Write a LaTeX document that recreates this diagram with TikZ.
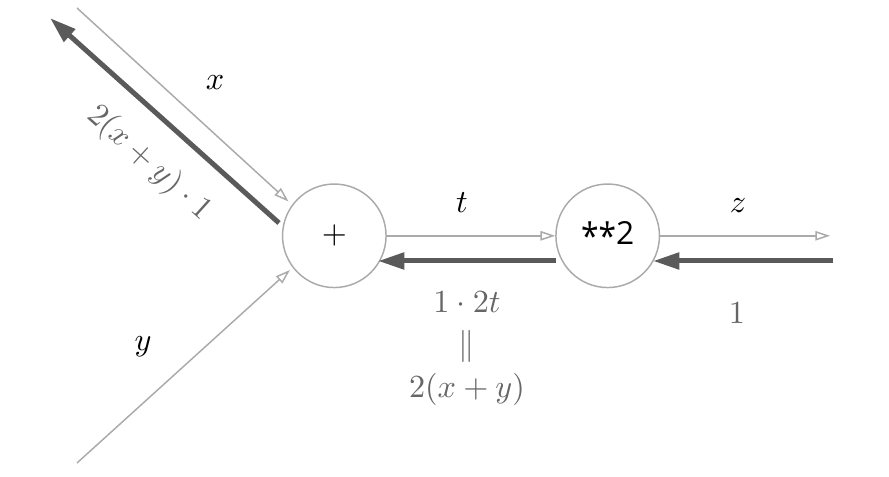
\documentclass[tikz,border=0pt]{standalone}
\usepackage{fontspec}
\usepackage{graphicx}
\newfontfamily\opensans{Open Sans}
\usetikzlibrary{arrows.meta,calc}
\definecolor{thinc}{HTML}{AAAAAA}
\definecolor{thickc}{HTML}{5A5A5A}
\definecolor{lblc}{HTML}{666666}
\newcommand{\bigstar}{\raisebox{-0.16em}{\scalebox{1}[1.15]{*}}}
\begin{document}
\begin{tikzpicture}[x=0.34pt,y=-0.34pt,
  font=\fontsize{10.5}{12}\selectfont,
  op/.style={circle,draw=thinc,line width=0.5pt,minimum size=35.2pt,inner sep=0pt},
  fwd/.style={draw=thinc,line width=0.5pt,-{Triangle[open,length=5pt,width=3.2pt]}},
  bwd/.style={draw=thickc,line width=1.7pt,-{Triangle[length=9pt,width=5.5pt]}},
  glab/.style={text=lblc},
  blab/.style={text=black}]
\useasboundingbox (0,0) rectangle (889,477);
% operator nodes
\node[op] (plus) at (334.3,235.8) {$+$};
\node[op,font=\opensans\fontsize{10.8}{12}\selectfont] (pow) at (607.7,235.8) {\bigstar\bigstar2};
% free ends
\coordinate (xs) at (77,8);
\coordinate (xe) at (288.5,201.5);
\coordinate (gxs) at (279,223);
\coordinate (gxe) at (50,18);
\coordinate (ys) at (77,463);
\coordinate (ye) at (290,270);
\coordinate (ze) at (830,235.8);
\coordinate (gts) at (556,261);
\coordinate (gte) at (378,261);
\coordinate (gzs) at (833,261);
\coordinate (gze) at (653,261);
% forward connectors
\draw[fwd] (xs) -- (xe);
\draw[fwd] (ys) -- (ye);
\draw[fwd] (plus.east) -- (pow.west);
\draw[fwd] (pow.east) -- (ze);
% backward connectors
\draw[bwd] (gxs) -- (gxe);
\draw[bwd] (gts) -- (gte);
\draw[bwd] (gzs) -- (gze);
% labels
\node[blab] (lx) at (215,83) {$x$};
\node[blab] (ly) at (143,347) {$y$};
\node[blab] (lt) at (462,203) {$t$};
\node[blab] (lz) at (738,206) {$z$};
\node[glab,rotate=-42] (lgx) at (149,163) {$2(x+y)\cdot 1$};
\node[glab] (lgt1) at (467,302) {$1\cdot 2t$};
\node[glab] (lgt2) at (467,346) {$\|$};
\node[glab] (lgt3) at (467,389) {$2(x+y)$};
\node[glab] (lgz) at (737,313) {$1$};
\end{tikzpicture}
\end{document}
